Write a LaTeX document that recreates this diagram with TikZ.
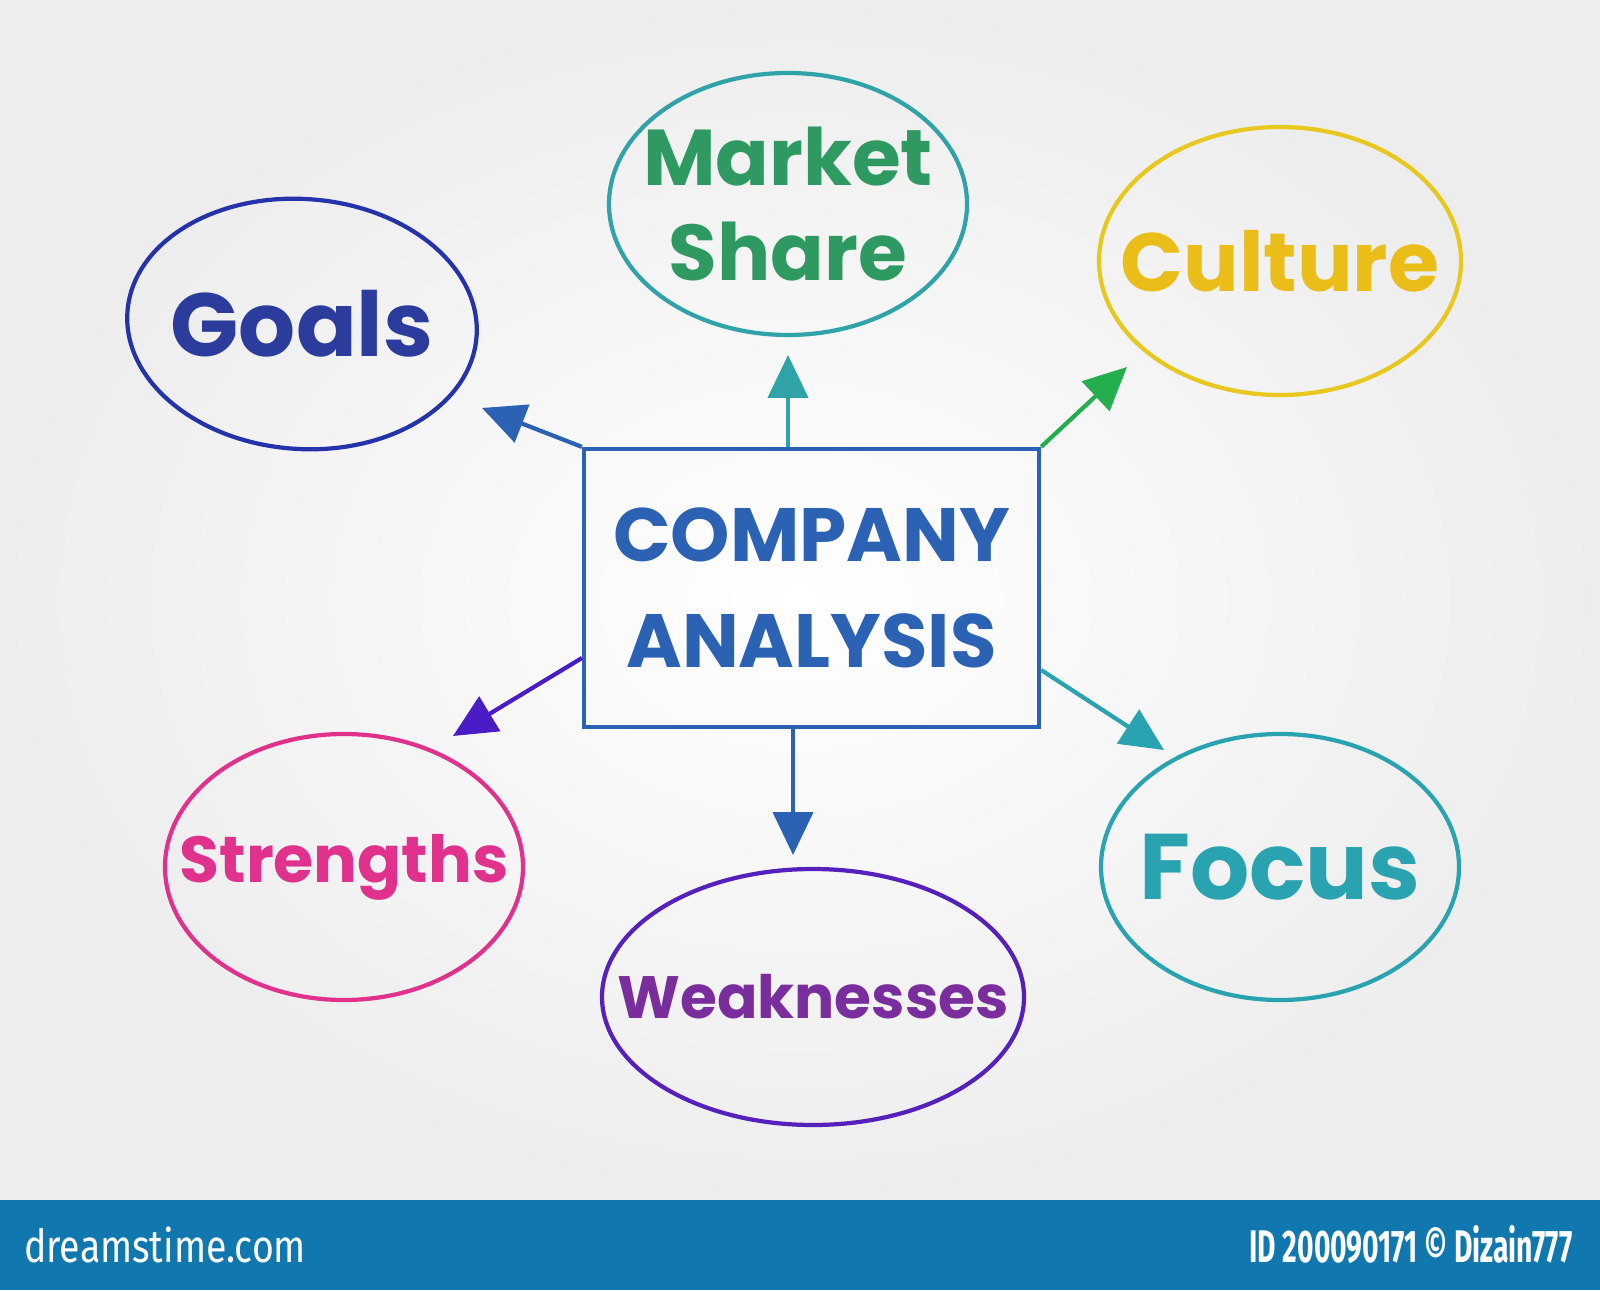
\documentclass[tikz,border=0pt]{standalone}
\usepackage{fontspec}
\setmainfont{Poppins}
\newfontfamily\bannerfont{Fira Sans}
\usetikzlibrary{shapes.geometric, positioning, arrows.meta}

\definecolor{goalsblue}{HTML}{2B3C9C}
\definecolor{marketgreen}{HTML}{2E9A62}
\definecolor{marketteal}{HTML}{2FA3A8}
\definecolor{cultureyellow}{HTML}{E8C81E}
\definecolor{cultureorange}{HTML}{E8781E}
\definecolor{strengthspink}{HTML}{E0318C}
\definecolor{weakpurple}{HTML}{7A2E9E}
\definecolor{focusteal}{HTML}{2AA3B0}
\definecolor{centerblue}{HTML}{2C62B4}
\definecolor{bannerblue}{HTML}{1177AF}

\begin{document}
\begin{tikzpicture}[x=1cm, y=1cm,
    bubble/.style={ellipse, draw, line width=1.2pt, inner sep=0pt},  % outline of an idea
    idea/.style={align=center, font=\bfseries},  % text of an idea
    arr/.style={line width=1.2pt, -{Triangle[length=4.3mm, width=4mm]}}]  % hand drawn arrow
    \useasboundingbox (0,0) rectangle (16,12.9);  % page size
    \shade[inner color=white, outer color=black!7] (0,0.9) rectangle (16,12.9);  % paper
    \fill[bannerblue] (0,0) rectangle (16,0.9);  % banner

    % Nodes
    \node (box) [draw=centerblue, line width=1.2pt, minimum width=4.55cm, minimum height=2.78cm, inner sep=0pt,
        idea, text=centerblue, font=\bfseries\fontsize{21.5}{30}\selectfont] at (8.115,7.02) {COMPANY\\ANALYSIS};  % central box
    \node (goals) [bubble, draw=goalsblue!85!blue, minimum width=3.5cm, minimum height=2.5cm, rotate=-4] at (3.02,9.66) {};  % goals
    \node (market) [bubble, draw=marketteal, minimum width=3.58cm, minimum height=2.62cm] at (7.88,10.86) {};  % market share
    \node (culture) [bubble, draw=cultureyellow, minimum width=3.62cm, minimum height=2.68cm] at (12.80,10.29) {};  % culture
    \node (strengths) [bubble, draw=strengthspink, minimum width=3.58cm, minimum height=2.66cm] at (3.44,4.23) {};  % strengths
    \node (weak) [bubble, draw=weakpurple!70!blue, minimum width=4.22cm, minimum height=2.56cm] at (8.13,2.93) {};  % weaknesses
    \node (focus) [bubble, draw=focusteal, minimum width=3.58cm, minimum height=2.66cm] at (12.80,4.23) {};  % focus

    % Texts
    \node (goalstext) [idea, text=goalsblue, font=\bfseries\fontsize{25.5}{30}\selectfont] at (goals) {Goals};
    \node (markettext) [idea, text=marketgreen, font=\bfseries\fontsize{22.5}{27}\selectfont] at (market) {Market\\Share};
    \node (culturetext) [idea, text=cultureyellow!85!orange, font=\bfseries\fontsize{23.5}{28}\selectfont] at (culture) {Culture};
    \node (strengthstext) [idea, text=strengthspink, font=\bfseries\fontsize{18.5}{22}\selectfont] at (strengths) {Strengths};
    \node (weaktext) [idea, text=weakpurple, font=\bfseries\fontsize{17}{20}\selectfont] at (weak) {Weaknesses};
    \node (focustext) [idea, text=focusteal, font=\bfseries\fontsize{26.5}{30}\selectfont] at (focus) {Focus};

    % Arrow tips
    \coordinate (goalstip) at (4.82,8.82);  % tip towards goals
    \coordinate (markettip) at (7.88,9.35);  % tip towards market share
    \coordinate (culturetip) at (11.27,9.23);  % tip towards culture
    \coordinate (strengthstip) at (4.53,5.54);  % tip towards strengths
    \coordinate (weaktip) at (7.93,4.35);  % tip towards weaknesses
    \coordinate (focustip) at (11.64,5.40);  % tip towards focus

    % Arrows
    \draw [arr, centerblue] (box.north west) -- (goalstip);  % box to goals
    \draw [arr, marketteal] (box.north -| markettip) -- (markettip);  % box to market share
    \draw [arr, marketgreen!80!green] (box.north east) -- (culturetip);  % box to culture
    \draw [arr, weakpurple!60!blue] (box.west |- 0,6.32) -- (strengthstip);  % box to strengths
    \draw [arr, centerblue] (box.south -| weaktip) -- (weaktip);  % box to weaknesses
    \draw [arr, focusteal] (box.east |- 0,6.20) -- (focustip);  % box to focus

    % Banner texts
    \node (site) [anchor=west, text=white, xscale=0.82, transform shape, font=\bannerfont\fontsize{13}{15}\selectfont] at (0.14,0.45) {dreamstime.com};  % site name
    \node (imgid) [anchor=east, text=white, xscale=0.62, transform shape, font=\bannerfont\bfseries\fontsize{13}{15}\selectfont] at (15.80,0.45) {ID 200090171 © Dizain777};  % image id
\end{tikzpicture}
\end{document}
